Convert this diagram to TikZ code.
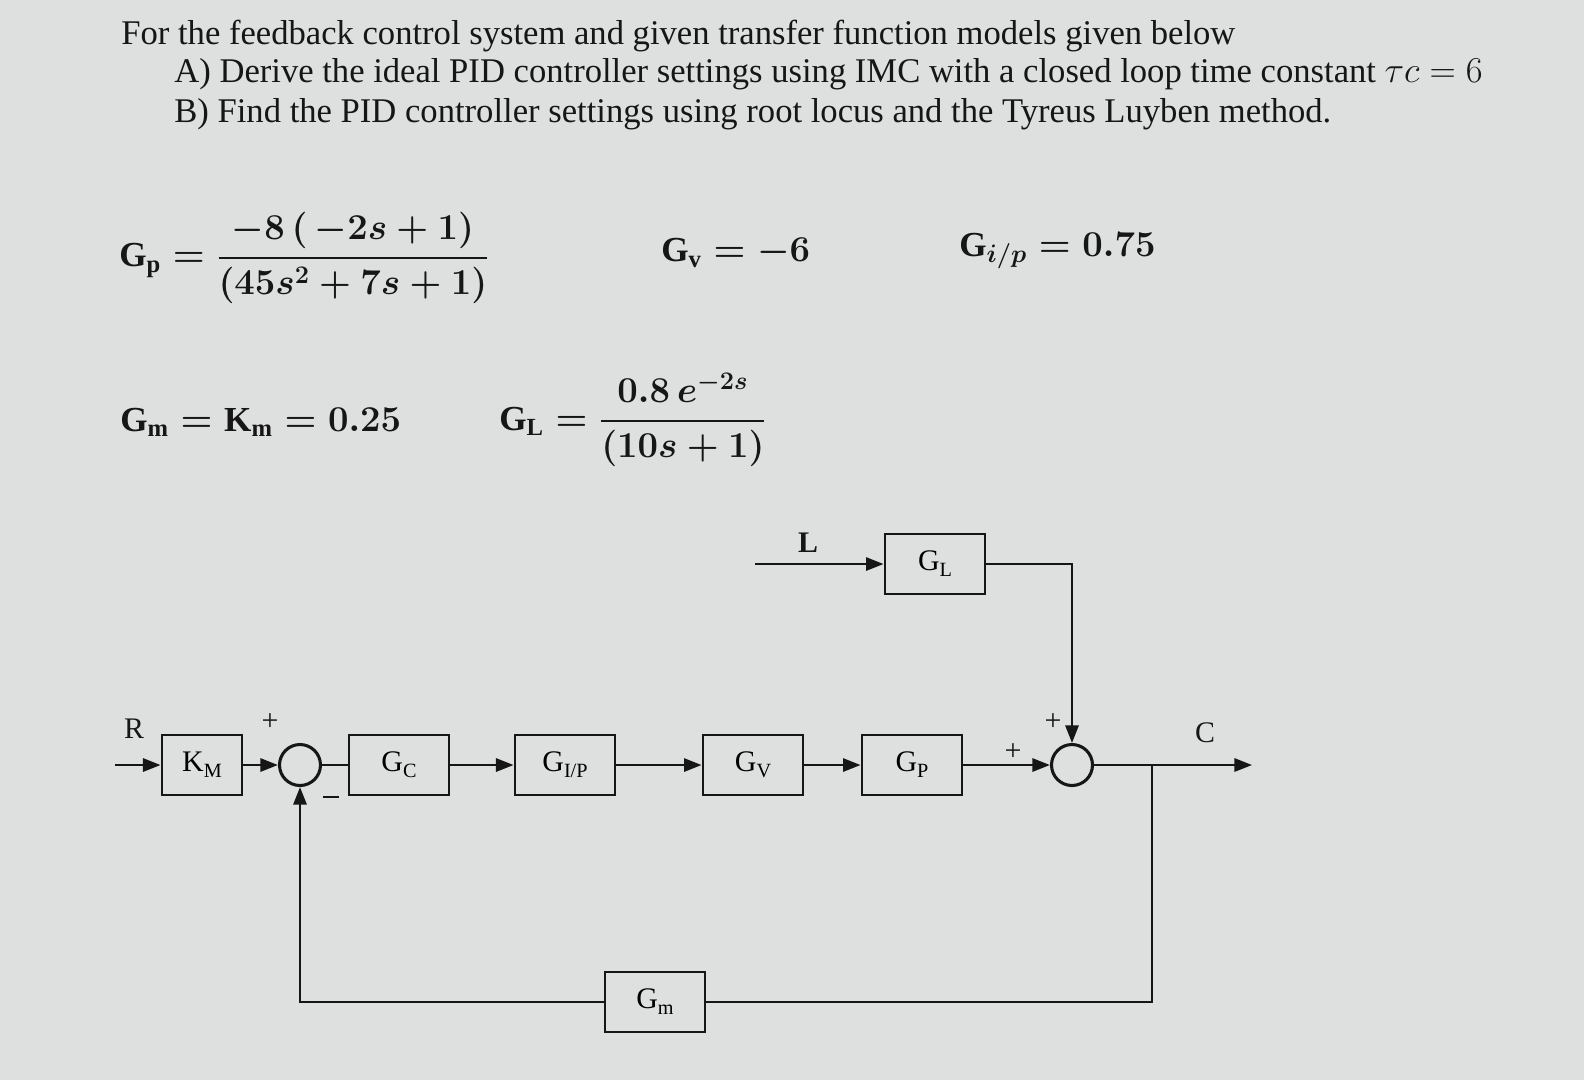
\documentclass[tikz,border=0pt]{standalone}
\usepackage{amsmath}
\usepackage{fontspec}
\setmainfont{Liberation Serif}
\usetikzlibrary{arrows.meta}
\definecolor{paper}{RGB}{222,223,223}
\definecolor{ink}{RGB}{22,22,22}
\newcommand{\blocksub}[1]{\raisebox{-0.45ex}{\fontsize{11.5}{12}\selectfont #1}}

\begin{document}
\begin{tikzpicture}[x=0.02cm,y=-0.02cm,
  blk/.style={draw=ink, line width=1.65pt, minimum width=2cm, minimum height=1.2cm, inner sep=0pt, font=\fontsize{17}{19}\selectfont},
  sumnode/.style={circle, draw=ink, line width=1.75pt, minimum size=0.82cm, inner sep=0pt},
  sig/.style={draw=ink, line width=1.4pt, -{Triangle[length=10pt,width=7.5pt]}},
  wire/.style={draw=ink, line width=1.4pt},
  lbl/.style={text=ink, font=\fontsize{17}{19}\selectfont},
  title/.style={text=ink, anchor=west, inner sep=0pt, font=\fontsize{19.7}{22}\selectfont},
  eq/.style={text=ink, anchor=west, inner sep=0pt, font=\fontsize{20}{24}\selectfont\boldmath}]
  \useasboundingbox (0,0) rectangle (1584,1080);
  \fill[paper] (0,0) rectangle (1584,1080);

  % Problem text
  \node[title] (line1) at (121,36) {For the feedback control system and given transfer function models given below};
  \node[title] (line2) at (174,74) {A) Derive the ideal PID controller settings using IMC with a closed loop time constant $\tau c = 6$};
  \node[title] (line3) at (174,114) {B) Find the PID controller settings using root locus and the Tyreus Luyben method.};

  % Transfer functions
  \node[eq] (gpeq) at (119,258) {$\mathrm{G_p} = \dfrac{-8\,(\,-2s+1)}{(45s^2+7s+1)}$};
  \node[eq] (gveq) at (661,253) {$\mathrm{G_v} = -6$};
  \node[eq] (gipeq) at (959,251) {$\mathrm{G}_{i/p} = 0.75$};
  \node[eq] (gmeq) at (120,422) {$\mathrm{G_m} = \mathrm{K_m} = 0.25$};
  \node[eq] (gleq) at (499,420) {$\mathrm{G_L} = \dfrac{0.8\,e^{-2s}}{(10s+1)}$};

  % Block diagram
  \node[blk, minimum width=1.6cm] (km) at (202,765) {K\blocksub{M}};
  \node[sumnode] (sum1) at (300,765) {};
  \node[blk] (gc) at (399,765) {G\blocksub{C}};
  \node[blk] (gip) at (565,765) {G\blocksub{I/P}};
  \node[blk] (gv) at (753,765) {G\blocksub{V}};
  \node[blk] (gp) at (912,765) {G\blocksub{P}};
  \node[sumnode] (sum2) at (1072,765) {};
  \node[blk] (gl) at (935,564) {G\blocksub{L}};
  \node[blk] (gm) at (655,1002) {G\blocksub{m}};
  \coordinate (rin) at (115,765);
  \coordinate (lin) at (755,564);
  \coordinate (tap) at (1152,765);
  \coordinate (cout) at (1252,765);

  \draw[sig] (rin) -- (km);
  \draw[sig] (km) -- (sum1);
  \draw[wire] (sum1) -- (gc);
  \draw[sig] (gc) -- (gip);
  \draw[sig] (gip) -- (gv);
  \draw[sig] (gv) -- (gp);
  \draw[sig] (gp) -- (sum2);
  \draw[sig] (sum2) -- (cout);
  \draw[sig] (lin) -- (gl);
  \draw[sig] (gl) -| (sum2);
  \draw[wire] (tap) |- (gm);
  \draw[sig] (gm) -| (sum1);

  % Signal labels and signs
  \node[lbl] (rlab) at (134,729) {R};
  \node[lbl] (llab) at (808,543) {\textbf{L}};
  \node[lbl] (clab) at (1205,733) {C};
  \node[lbl] (plus1) at (270,722) {+};
  \node[lbl] (minus1) at (331,797) {\rule{9pt}{1.2pt}};
  \node[lbl] (plus2) at (1013,752) {+};
  \node[lbl] (plus3) at (1053,722) {+};
\end{tikzpicture}
\end{document}
